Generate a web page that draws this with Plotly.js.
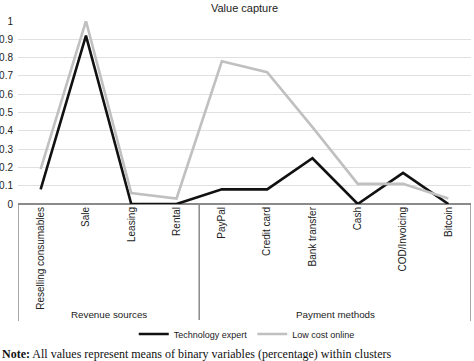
<!DOCTYPE html>
<html><head><meta charset="utf-8">
<script src="https://cdn.plot.ly/plotly-3.0.1.min.js"></script>
<style>html,body{margin:0;padding:0;background:#fff}#chart{width:474px;height:361px}</style>
</head><body><div id="chart"></div>
<script>
var categories = ["Reselling consumables","Sale","Leasing","Rental","PayPal","Credit card","Bank transfer","Cash","COD/Invoicing","Bitcoin"];
var techExpert = [0.08,0.92,0,0,0.08,0.08,0.25,0,0.17,0];
var lowCostOnline = [0.19,1.0,0.06,0.03,0.78,0.72,0.42,0.11,0.11,0.03];
var groups = ["Revenue sources","Payment methods"];
var groupSpans = [[0,3],[4,9]];
var yTicks = [0,0.1,0.2,0.3,0.4,0.5,0.6,0.7,0.8,0.9,1];

var L = 18, R = 3, T = 21, B = 157;
var plotW = 474 - L - R, plotH = 361 - T - B;
function py(pix){ return -(pix - (361 - B)) / plotH; }

var traces = [
  {x: categories, y: techExpert, type:'scatter', mode:'lines', name:'Technology expert',
   line:{color:'#111111', width:2.6}, cliponaxis:false},
  {x: categories, y: lowCostOnline, type:'scatter', mode:'lines', name:'Low cost online',
   line:{color:'#c0c0c0', width:2.6}, cliponaxis:false}
];

var boxBottom = py(321);
var shapes = [];
[-0.5, 3.5, 9.5].forEach(function(xv){
  shapes.push({type:'line', xref:'x', yref:'paper', x0:xv, x1:xv, y0:0, y1:boxBottom,
    line:{color:'#8a8a8a', width:1.5}});
});

var annotations = groups.map(function(g,i){
  return {text:g, xref:'x', yref:'paper', x:(groupSpans[i][0]+groupSpans[i][1])/2, y:py(314),
    showarrow:false, xanchor:'center', yanchor:'middle',
    font:{family:'Liberation Sans, Arial, sans-serif', size:9.8, color:'#222'}};
});
annotations.push({
  text:'<b>Note:</b> All values represent means of binary variables (percentage) within clusters',
  xref:'paper', yref:'paper', x:-L/plotW, y:py(354), xanchor:'left', yanchor:'middle', showarrow:false,
  font:{family:'Liberation Serif, Times New Roman, serif', size:12, color:'#111'}
});

var layout = {
  width:474, height:361,
  margin:{l:L, r:R, t:T, b:B, pad:0},
  paper_bgcolor:'#fff', plot_bgcolor:'#fff',
  title:{text:'Value capture', x:0.5, xref:'paper', xanchor:'center', y:1-8/361, yanchor:'middle',
    font:{family:'Liberation Sans, Arial, sans-serif', size:11, color:'#222'}},
  xaxis:{type:'category', range:[-0.5,9.5], tickangle:-90, showgrid:false, zeroline:false,
    showline:false, ticks:'', ticklen:0,
    tickfont:{family:'Liberation Sans, Arial, sans-serif', size:10, color:'#222'}},
  yaxis:{range:[0,1], tickvals:yTicks, ticktext:yTicks.map(function(v){return String(v);}),
    showgrid:true, gridcolor:'#e0e0e0', gridwidth:1, zeroline:true, zerolinecolor:'#8a8a8a', zerolinewidth:1.5,
    showline:false, ticks:'', ticklabelstandoff:4,
    tickfont:{family:'Liberation Sans, Arial, sans-serif', size:10, color:'#222'}},
  legend:{orientation:'h', x:0.505, xanchor:'center', xref:'paper', y:py(334), yanchor:'middle',
    font:{family:'Liberation Sans, Arial, sans-serif', size:9, color:'#222'}, itemwidth:30, tracegroupgap:0},
  shapes:shapes, annotations:annotations, showlegend:true
};
Plotly.newPlot('chart', traces, layout, {displayModeBar:false, staticPlot:true});
</script></body></html>
